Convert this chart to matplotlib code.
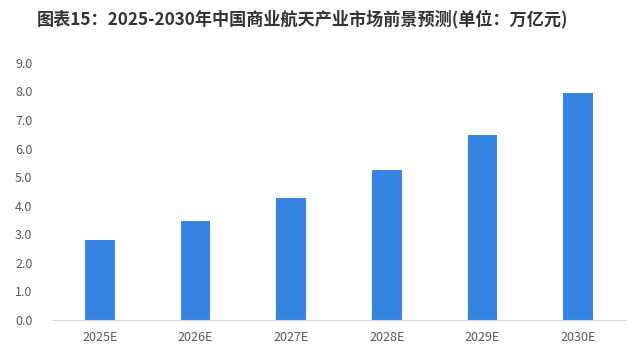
import matplotlib.pyplot as plt

plt.rcParams['font.family'] = ['Noto Sans CJK SC', 'DejaVu Sans']

# data
years = ["2025E", "2026E", "2027E", "2028E", "2029E", "2030E"]
market = [2.8, 3.46, 4.28, 5.25, 6.47, 7.94]
yticks = [0, 1, 2, 3, 4, 5, 6, 7, 8, 9]

fig = plt.figure(figsize=(6.4, 3.55), dpi=100)
ax = fig.add_axes([0.081, 0.099, 0.897, 0.724])

ax.bar(range(len(years)), market, width=0.31, color="#3584e4", zorder=2)

ax.set_xlim(-0.5, len(years) - 0.5)
ax.set_ylim(0, 9)
ax.set_yticks(yticks)
ax.set_yticklabels([f"{v:.1f}" for v in yticks])
ax.set_xticks(range(len(years)))
ax.set_xticklabels(years)
ax.tick_params(axis="both", length=0, labelsize=9, labelcolor="#595959")
ax.tick_params(axis="y", pad=14)
ax.tick_params(axis="x", pad=8)

for s in ["top", "right", "left"]:
    ax.spines[s].set_visible(False)
ax.spines["bottom"].set_color("#d9d9d9")

fig.text(0.058, 0.945, "图表15：2025-2030年中国商业航天产业市场前景预测(单位：万亿元)",
         fontsize=12.3, fontweight="bold", color="#333333", va="center")

fig.savefig("out.png")
